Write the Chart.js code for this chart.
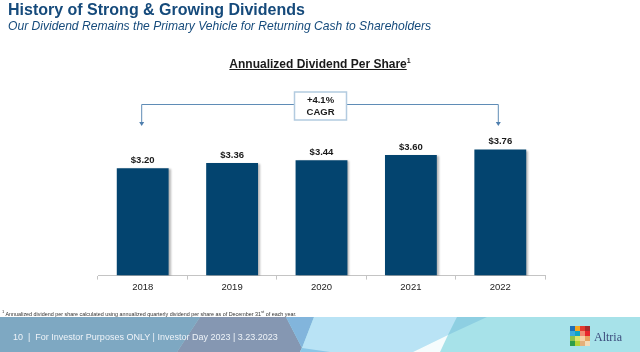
<!DOCTYPE html>
<html>
<head>
<meta charset="utf-8">
<script src="https://cdn.jsdelivr.net/npm/chart.js@4"></script>
<style>
  html, body { margin: 0; padding: 0; background: #fff; }
  body { width: 640px; height: 352px; position: relative; overflow: hidden; font-family: "Liberation Sans", Arial, sans-serif; }
  #chartBox { position: absolute; left: 0; top: 0; width: 640px; height: 352px; }
  .txt { position: absolute; white-space: nowrap; }
  #title { left: 8px; top: 1px; font-size: 16px; font-weight: bold; color: #154a7b; }
  #subtitle { left: 8px; top: 19px; font-size: 12.1px; font-style: italic; color: #154a7b; }
  #chartTitle { left: 0; width: 640px; text-align: center; top: 57px; font-size: 12px; font-weight: bold; color: #1a1a1a; }
  #chartTitle span { text-decoration: underline; }
  #chartTitle sup { font-size: 7px; }
  #footnote { left: 2px; top: 309px; font-size: 5.4px; color: #333; }
  #footnote sup { font-size: 4px; }
  #footer { position: absolute; left: 0; top: 317px; }
  #footText { left: 13px; top: 332px; font-size: 9px; color: #eef3f8; }
  #logoText { left: 594px; top: 330px; font-family: "Liberation Serif", serif; font-size: 12px; color: #3b4b7c; }
</style>
</head>
<body>
<div id="chartBox"><canvas id="divChart"></canvas></div>

<div class="txt" id="title">History of Strong &amp; Growing Dividends</div>
<div class="txt" id="subtitle">Our Dividend Remains the Primary Vehicle for Returning Cash to Shareholders</div>
<div class="txt" id="chartTitle"><span>Annualized Dividend Per Share</span><sup>1</sup></div>
<div class="txt" id="footnote"><sup>1</sup> Annualized dividend per share calculated using annualized quarterly dividend per share as of December 31<sup>st</sup> of each year.</div>

<svg id="footer" width="640" height="35" viewBox="0 317 640 35">
  <rect x="0" y="317" width="640" height="35" fill="#a7e2e9"/>
  <polygon points="0,317 200,317 177,352 0,352" fill="#7ea8c2"/>
  <polygon points="200,317 286,317 302,348 300,352 177,352" fill="#8597b2"/>
  <polygon points="286,317 314,317 302,348" fill="#82b5dc"/>
  <polygon points="314,317 457,317 448,335 413,352 300,352 302,348" fill="#b9e3f5"/>
  <polygon points="302,348 330,352 300,352" fill="#8ac6e6"/>
  <polygon points="457,317 487,317 448,335" fill="#8ecfe2"/>
  <polygon points="448,335 440,352 413,352" fill="#f6fcfd"/>
  <g id="logo"></g>
</svg>
<div class="txt" id="footText">10&nbsp; |&nbsp; For Investor Purposes ONLY | Investor Day 2023 | 3.23.2023</div>
<div class="txt" id="logoText">Altria</div>

<script>
// ============================
// Data
// ============================
const years = ["2018", "2019", "2020", "2021", "2022"];
const dividends = [3.20, 3.36, 3.44, 3.60, 3.76];
const cagrLines = ["+4.1%", "CAGR"];

// logo squares (decoration)
const logoColors = [
    ["#1f6fb5", "#f5a623", "#e53a2e", "#a82a2a"],
    ["#3aa9dd", "#10a5c2", "#f08a70", "#e8262b"],
    ["#8bc34a", "#dbe36a", "#f6d1a6", "#e7a25f"],
    ["#2e9e48", "#b5d334", "#e5b07a", "#f3dcb8"]
];
const logoG = document.getElementById("logo");
logoColors.forEach((row, r) => {
    row.forEach((c, k) => {
        const sq = document.createElementNS("http://www.w3.org/2000/svg", "rect");
        sq.setAttribute("x", 570 + k * 5);
        sq.setAttribute("y", 326 + r * 5);
        sq.setAttribute("width", 5);
        sq.setAttribute("height", 5);
        sq.setAttribute("fill", c);
        logoG.appendChild(sq);
    });
});

// ============================
// Plugins
// ============================
const barShadow = {
    id: "barShadow",
    beforeDatasetsDraw(chart) {
        const ctx = chart.ctx;
        ctx.save();
        ctx.shadowColor = "rgba(0,0,0,0.28)";
        ctx.shadowOffsetX = 2;
        ctx.shadowOffsetY = 1;
        ctx.shadowBlur = 2;
    },
    afterDatasetsDraw(chart) {
        chart.ctx.restore();
    }
};

const valueLabels = {
    id: "valueLabels",
    afterDatasetsDraw(chart) {
        const ctx = chart.ctx;
        const meta = chart.getDatasetMeta(0);
        ctx.save();
        ctx.font = "bold 9.5px 'Liberation Sans', Arial, sans-serif";
        ctx.fillStyle = "#1a1a1a";
        ctx.textAlign = "center";
        ctx.textBaseline = "bottom";
        meta.data.forEach((bar, i) => {
            ctx.fillText("$" + dividends[i].toFixed(2), bar.x, bar.y - 3);
        });
        ctx.restore();
    }
};

const cagrBracket = {
    id: "cagrBracket",
    afterDraw(chart) {
        const ctx = chart.ctx;
        const meta = chart.getDatasetMeta(0);
        const x0 = meta.data[0].x;
        const x1 = meta.data[meta.data.length - 1].x;
        const lineY = 104, tipY = 126;
        const midX = (x0 + x1) / 2;

        ctx.save();
        ctx.strokeStyle = "#5f8cb6";
        ctx.fillStyle = "#4f7fae";
        ctx.lineWidth = 1;
        ctx.beginPath();
        ctx.moveTo(x0 - 1, tipY - 4);
        ctx.lineTo(x0 - 1, lineY + 0.5);
        ctx.lineTo(x1 - 2, lineY + 0.5);
        ctx.lineTo(x1 - 2, tipY - 4);
        ctx.stroke();
        [x0 - 1, x1 - 2].forEach(x => {
            ctx.beginPath();
            ctx.moveTo(x - 2.5, tipY - 4);
            ctx.lineTo(x + 2.5, tipY - 4);
            ctx.lineTo(x, tipY);
            ctx.closePath();
            ctx.fill();
        });

        // box
        const bw = 52, bh = 28, bx = midX - bw / 2 - 1, by = 92;
        ctx.fillStyle = "#ffffff";
        ctx.fillRect(bx, by, bw, bh);
        ctx.strokeStyle = "#b3cbe0";
        ctx.lineWidth = 1.5;
        ctx.strokeRect(bx, by, bw, bh);

        ctx.fillStyle = "#1a1a1a";
        ctx.font = "bold 9.5px 'Liberation Sans', Arial, sans-serif";
        ctx.textAlign = "center";
        ctx.textBaseline = "middle";
        ctx.fillText(cagrLines[0], bx + bw / 2, by + 8.5);
        ctx.fillText(cagrLines[1], bx + bw / 2, by + 20);
        ctx.restore();
    }
};

// ============================
// Chart
// ============================
const ctx = document.getElementById("divChart").getContext("2d");
const divChart = new Chart(ctx, {
    type: "bar",
    data: {
        labels: years,
        datasets: [{
            label: "Annualized Dividend Per Share",
            data: dividends,
            backgroundColor: "#03446f",
            borderWidth: 0,
            barPercentage: 0.58,
            categoryPercentage: 1.0
        }]
    },
    options: {
        responsive: true,
        maintainAspectRatio: false,
        animation: false,
        layout: { padding: { left: 98, right: 95, top: 108, bottom: 57 } },
        plugins: {
            legend: { display: false },
            tooltip: { enabled: false },
            title: { display: false }
        },
        scales: {
            x: {
                grid: { drawOnChartArea: false, drawTicks: true, tickLength: 4, color: "#c4c4c4" },
                border: { display: true, color: "#c4c4c4" },
                ticks: { color: "#222", padding: 2, font: { family: "'Liberation Sans', Arial, sans-serif", size: 9.5 } }
            },
            y: { display: false, min: 0, max: 5 }
        }
    },
    plugins: [barShadow, valueLabels, cagrBracket]
});
</script>
</body>
</html>
